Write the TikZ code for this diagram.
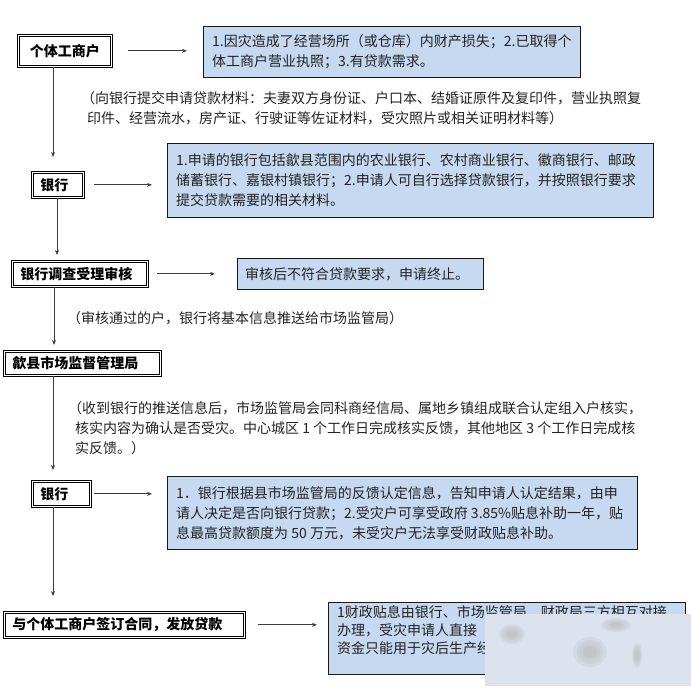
\documentclass[tikz,border=0pt]{standalone}
\usepackage{fontspec}
\setmainfont{Noto Sans CJK SC}
\usetikzlibrary{arrows.meta,calc}
\definecolor{boxblue}{RGB}{198,217,240}
\definecolor{linegray}{RGB}{60,60,60}
\definecolor{txtgray}{RGB}{34,34,34}
\definecolor{wmark}{RGB}{221,227,238}
\begin{document}
\begin{tikzpicture}[x=1pt,y=-1pt,
  lbl/.style={draw=black, double=white, double distance=1.6pt, line width=0.7pt,
    anchor=north west, inner xsep=8pt, inner ysep=0pt, align=left,
    font=\fontsize{14}{20}\selectfont\bfseries, text=black},
  infobox/.style={draw=black!90, line width=0.8pt, fill=boxblue, anchor=north west, inner sep=0pt},
  infotxt/.style={anchor=west, align=left, inner sep=0pt, font=\fontsize{14}{20}\selectfont, text=txtgray},
  para/.style={anchor=west, align=left, inner sep=0pt, font=\fontsize{14}{20}\selectfont, text=txtgray},
  arr/.style={draw=linegray, line width=0.8pt, -{Stealth[length=5pt,width=4pt]}},
  blob/.style={fill=gray!75, opacity=0.13}]
\useasboundingbox (0,0) rectangle (691,689);

% ---- left chain boxes
\node[lbl, minimum width=93pt, minimum height=31pt, text width=77pt, align=center] (A) at (18,35) {个体工商户};
\node[lbl, minimum width=51pt, minimum height=25pt, text width=35pt] (B1) at (32,172) {银行};
\node[lbl, minimum width=135pt, minimum height=25pt, text width=119pt] (C) at (12,261) {银行调查受理审核};
\node[lbl, minimum width=156pt, minimum height=24pt, text width=140pt] (D) at (4,351) {歙县市场监督管理局};
\node[lbl, minimum width=58pt, minimum height=25pt, text width=42pt] (B2) at (32,481) {银行};
\node[lbl, minimum width=240pt, minimum height=25pt, text width=224pt] (E) at (4,612) {与个体工商户签订合同，发放贷款};

% ---- blue info boxes
\node[infobox, minimum width=377pt, minimum height=51pt] (b1) at (203,26) {};
\node[infotxt] (t1) at ([xshift=9pt]b1.west) {1.因灾造成了经营场所（或仓库）内财产损失；2.已取得个\\体工商户营业执照；3.有贷款需求。};

\node[infobox, minimum width=486pt, minimum height=74pt] (b2) at (167,143) {};
\node[infotxt] (t2) at ([xshift=9pt]b2.west) {1.申请的银行包括歙县范围内的农业银行、农村商业银行、徽商银行、邮政\\储蓄银行、嘉银村镇银行；2.申请人可自行选择贷款银行，并按照银行要求\\提交贷款需要的相关材料。};

\node[infobox, minimum width=246pt, minimum height=31pt] (b3) at (237,258) {};
\node[infotxt] (t3) at ([xshift=8pt]b3.west) {审核后不符合贷款要求，申请终止。};

\node[infobox, minimum width=470pt, minimum height=73pt] (b4) at (167,476) {};
\node[infotxt] (t4) at ([xshift=9pt]b4.west) {1．银行根据县市场监管局的反馈认定信息，告知申请人认定结果，由申\\请人决定是否向银行贷款；2.受灾户可享受政府 3.85\%贴息补助一年，贴\\息最高贷款额度为 50 万元，未受灾户无法享受财政贴息补助。};

\node[infobox, minimum width=357pt, minimum height=72pt] (b5) at (328,602) {};
\node[infotxt, anchor=north west, font=\fontsize{14}{18}\selectfont] (t5) at ([xshift=9pt,yshift=-3pt]b5.north west) {1财政贴息由银行、市场监管局、财政局三方相互对接\\办理，受灾申请人直接\\资金只能用于灾后生产经};

% ---- blurred watermark patch over the last box
\fill[wmark] (485,614) rectangle (691,686);
\foreach \r in {1,0.8,0.6,0.4} {
  \fill[blob] (512,634) ellipse ({13*\r pt} and {10*\r pt});
  \fill[blob] (590,652) ellipse ({17*\r pt} and {15*\r pt});
  \fill[blob] (616,625) ellipse ({15*\r pt} and {7*\r pt});
  \fill[blob] (637,655) ellipse ({5*\r pt} and {13*\r pt});
}

% ---- explanatory paragraphs
\node[para] (p1) at (87,108) {\hspace*{-6pt}（向银行提交申请贷款材料：夫妻双方身份证、户口本、结婚证原件及复印件，营业执照复\\印件、经营流水，房产证、行驶证等佐证材料，受灾照片或相关证明材料等）};
\node[para] (p2) at (67,318) {（审核通过的户，银行将基本信息推送给市场监管局）};
\node[para] (p3) at (75,428) {\hspace*{-7pt}（收到银行的推送信息后，市场监管局会同科商经信局、属地乡镇组成联合认定组入户核实，\\核实内容为确认是否受灾。中心城区 1 个工作日完成核实反馈，其他地区 3 个工作日完成核\\实反馈。）};

% ---- vertical connectors (tips stop short of next box)
\coordinate (e1) at (53,157);
\coordinate (e2) at (57,255);
\coordinate (e3) at (54,345);
\coordinate (e4) at (53,470);
\coordinate (e5) at (53,596);
\draw[arr] (A.south -| e1) -- (e1);
\draw[arr] (B1.south -| e2) -- (e2);
\draw[arr] (C.south -| e3) -- (e3);
\draw[arr] (D.south -| e4) -- (e4);
\draw[arr] (B2.south -| e5) -- (e5);

% ---- horizontal arrows
\draw[arr, shorten <=16pt, shorten >=16pt] (A.east) -- (A.east -| b1.west);
\draw[arr, shorten <=10pt, shorten >=15pt] (B1.east) -- (B1.east -| b2.west);
\draw[arr, shorten <=9pt, shorten >=22pt] (C.east) -- (C.east -| b3.west);
\draw[arr, shorten <=3pt, shorten >=15pt] (B2.east) -- (B2.east -| b4.west);
\draw[arr, shorten <=13pt, shorten >=11pt] (E.east) -- (E.east -| b5.west);
\end{tikzpicture}
\end{document}
